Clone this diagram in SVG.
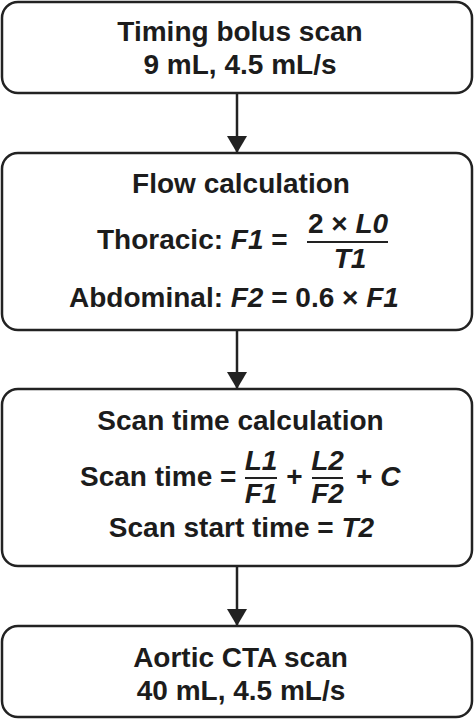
<svg xmlns="http://www.w3.org/2000/svg" width="474" height="720" viewBox="0 0 474 720">
<style>
.box{fill:#fff;stroke:#222;stroke-width:2.5}
.t{font-family:"Liberation Sans",Arial,Helvetica,sans-serif;font-weight:bold;font-size:28px;fill:#1c1c1c}
.c{text-anchor:middle}
.i{font-style:italic}
.fr{stroke:#222;stroke-width:2}
.con{stroke:#222;stroke-width:2.5;fill:none}
</style>
<defs>
<marker id="ah" viewBox="0 0 17 20" refX="17" refY="10" markerWidth="17" markerHeight="20" markerUnits="userSpaceOnUse" orient="auto">
<path d="M0,0 L17,10 L0,20 z" fill="#222"/>
</marker>
</defs>
<rect width="474" height="720" fill="#fff"/>
<g id="connectors">
<line class="con" x1="237" y1="93" x2="237" y2="153" marker-end="url(#ah)"/>
<line class="con" x1="237" y1="330" x2="237" y2="389" marker-end="url(#ah)"/>
<line class="con" x1="237" y1="566" x2="237" y2="626" marker-end="url(#ah)"/>
</g>
<g id="timing-bolus">
<rect class="box" x="2" y="2" width="470" height="91" rx="16"/>
<text class="t c" x="240" y="41">Timing bolus scan</text>
<text class="t c" x="240" y="74">9 mL, 4.5 mL/s</text>
</g>
<g id="flow-calc">
<rect class="box" x="2" y="153" width="470" height="177" rx="16"/>
<text class="t c" x="241" y="193">Flow calculation</text>
<text class="t" x="97" y="249">Thoracic: <tspan class="i">F1</tspan> =</text>
<text class="t c" x="348" y="233">2 × <tspan class="i">L0</tspan></text>
<line class="fr" x1="307" y1="242" x2="388" y2="242"/>
<text class="t c i" x="350" y="268">T1</text>
<text class="t" x="69" y="307">Abdominal: <tspan class="i">F2</tspan> = 0.6 × <tspan class="i">F1</tspan></text>
</g>
<g id="scan-time-calc">
<rect class="box" x="2" y="389" width="470" height="177" rx="16"/>
<text class="t c" x="240.5" y="430">Scan time calculation</text>
<text class="t" x="80" y="486">Scan time =</text>
<text class="t c i" x="261" y="470">L1</text>
<line class="fr" x1="245" y1="478" x2="277" y2="478"/>
<text class="t c i" x="261" y="503">F1</text>
<text class="t c" x="294.5" y="486">+</text>
<text class="t c i" x="327.5" y="470">L2</text>
<line class="fr" x1="312" y1="478" x2="343" y2="478"/>
<text class="t c i" x="327.5" y="503">F2</text>
<text class="t" x="356" y="486">+ <tspan class="i">C</tspan></text>
<text class="t c" x="241.5" y="537">Scan start time = <tspan class="i">T2</tspan></text>
</g>
<g id="aortic-cta">
<rect class="box" x="2" y="626" width="470" height="91" rx="16"/>
<text class="t c" x="240.5" y="667">Aortic CTA scan</text>
<text class="t c" x="241" y="700">40 mL, 4.5 mL/s</text>
</g>
</svg>
